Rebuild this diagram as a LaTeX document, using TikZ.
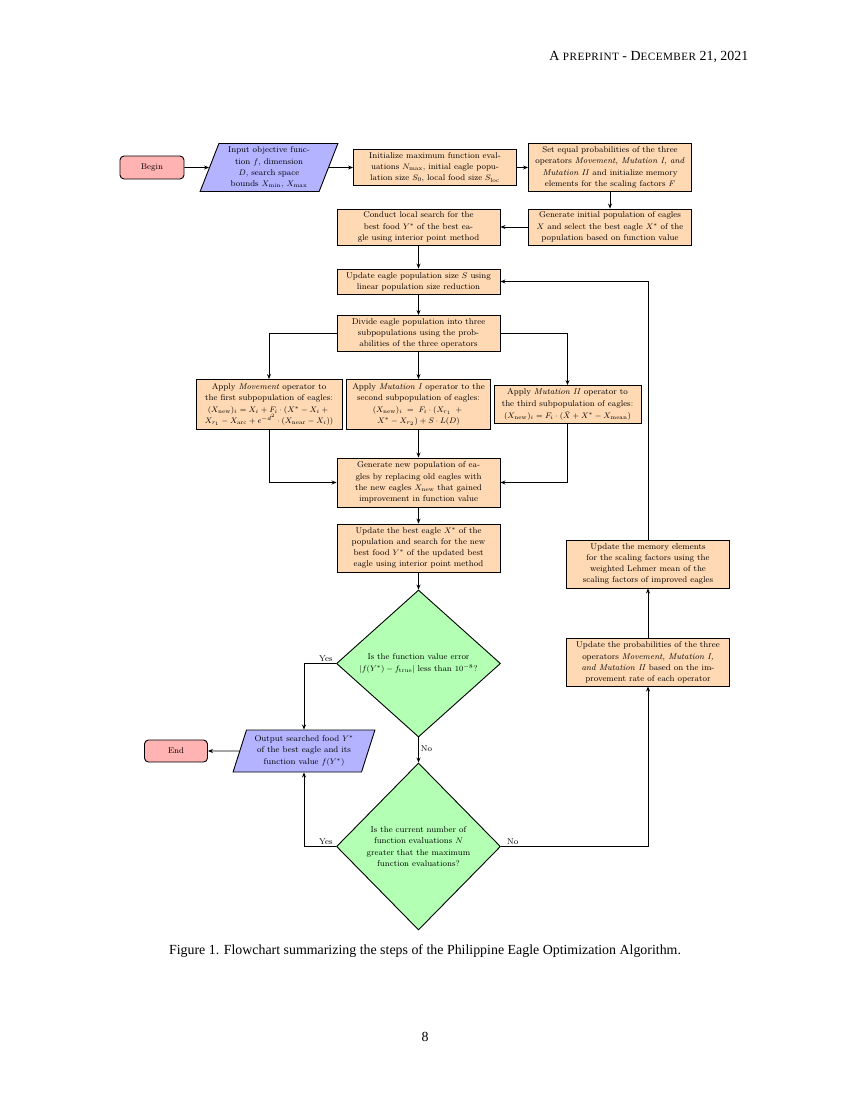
\documentclass[tikz,border=0pt]{standalone}
\usepackage{fontspec}
\usetikzlibrary{shapes.geometric,arrows.meta}
\newfontfamily\timesfont{Liberation Serif}
\newfontfamily\timesfontsp{Liberation Serif}[LetterSpace=4]
\definecolor{startc}{RGB}{255,179,179}
\definecolor{ioc}{RGB}{179,179,255}
\definecolor{procc}{RGB}{255,217,179}
\definecolor{decc}{RGB}{179,255,179}
\newcommand{\smc}[1]{{\timesfontsp\fontsize{11.2}{13}\selectfont #1}}
\tikzset{
 txt/.style={font=\fontsize{8.4}{11.2}\selectfont, align=center},
 proc/.style={txt, draw, line width=0.9pt, fill=procc, rectangle, inner xsep=2pt, inner ysep=3pt, minimum width=163pt},
 term/.style={txt, draw, line width=0.9pt, fill=startc, rectangle, rounded corners=4pt, minimum width=64pt, minimum height=23pt},
 io/.style={txt, draw, line width=0.9pt, fill=ioc, trapezium, trapezium left angle=70, trapezium right angle=110, trapezium stretches=true, inner sep=1pt},
 dec/.style={txt, draw, line width=0.9pt, fill=decc, diamond, inner sep=0pt},
 arr/.style={line width=0.8pt, -{Stealth[length=5pt,width=4pt]}},
 lab/.style={font=\fontsize{8.4}{10}\selectfont, inner sep=2pt},
 page/.style={font=\timesfont\fontsize{13.9}{16}\selectfont}
}
\begin{document}
\begin{tikzpicture}[x=1pt,y=-1pt]
\useasboundingbox (0,0) rectangle (850,1100);
% header, caption, page number
\node[page, anchor=east, inner sep=0pt] (hdr) at (748.5,57) {A \smc{PREPRINT} - D\smc{ECEMBER} 21, 2021};
\node[page] (cap) at (425,951) {Figure 1. Flowchart summarizing the steps of the Philippine Eagle Optimization Algorithm.};
\node[page] (pg) at (425,1037) {8};

% nodes
\node[term] (begin) at (152,167.5) {Begin};
\node[io, minimum width=138pt, minimum height=48pt] (in) at (269,167.5) {Input objective func-\\tion $f$, dimension\\$D$, search space\\bounds $X_{\min}$, $X_{\max}$};
\node[proc, minimum height=36pt] (init) at (435,167.5) {Initialize maximum function eval-\\uations $N_{\max}$, initial eagle popu-\\lation size $S_0$, local food size $S_{\mathrm{loc}}$};
\node[proc, minimum height=48pt] (set) at (610,167.5) {Set equal probabilities of the three\\operators \textit{Movement, Mutation I, and}\\\textit{Mutation II} and initialize memory\\elements for the scaling factors $F$};
\node[proc, minimum height=36pt] (geninit) at (610,227) {Generate initial population of eagles\\$X$ and select the best eagle $X^*$ of the\\population based on function value};
\node[proc, minimum height=36pt] (conduct) at (418.5,227) {Conduct local search for the\\best food $Y^*$ of the best ea-\\gle using interior point method};
\node[proc, minimum height=25pt] (updpop) at (418.5,281.5) {Update eagle population size $S$ using\\linear population size reduction};
\node[proc, minimum height=36pt] (divide) at (418.5,333.5) {Divide eagle population into three\\subpopulations using the prob-\\abilities of the three operators};
\node[proc, minimum width=146pt, minimum height=50pt] (mov) at (269,404.5) {Apply \textit{Movement} operator to\\the first subpopulation of eagles:\\$(X_{\mathrm{new}})_i = X_i + F_i\cdot(X^*-X_i+{}$\\$X_{r_1}-X_{\mathrm{arc}}+e^{-d^2}\cdot(X_{\mathrm{near}}-X_i))$};
\node[proc, minimum width=144pt, minimum height=50pt] (mut1) at (418.5,404.5) {Apply \textit{Mutation I} operator to the\\second subpopulation of eagles:\\$(X_{\mathrm{new}})_i \;=\; F_i\cdot(X_{r_1}\;+{}$\\$X^*-X_{r_2})+S\cdot L(D)$};
\node[proc, minimum width=147pt, minimum height=38pt] (mut2) at (567.5,404.5) {Apply \textit{Mutation II} operator to\\the third subpopulation of eagles:\\[1pt]$(X_{\mathrm{new}})_i = F_i\cdot(\bar{X}+X^*-X_{\mathrm{mean}})$};
\node[proc, minimum height=49pt] (gennew) at (418.5,482.5) {Generate new population of ea-\\gles by replacing old eagles with\\the new eagles $X_{\mathrm{new}}$ that gained\\improvement in function value};
\node[proc, minimum height=48pt] (updbest) at (418.5,548) {Update the best eagle $X^*$ of the\\population and search for the new\\best food $Y^*$ of the updated best\\eagle using interior point method};
\node[dec, minimum width=164pt, minimum height=147pt] (d1) at (418.5,663.5) {Is the function value error\\$|f(Y^*)-f_{\mathrm{true}}|$ less than $10^{-8}$?};
\node[dec, minimum width=164pt, minimum height=167pt] (d2) at (418.5,846.5) {Is the current number of\\function evaluations $N$\\greater that the maximum\\function evaluations?};
\node[io, minimum width=142pt, minimum height=42pt] (out) at (304,751) {Output searched food $Y^*$\\of the best eagle and its\\function value $f(Y^*)$};
\node[term, minimum width=63pt, minimum height=22pt] (end) at (176,751) {End};
\node[proc, minimum height=48pt] (mem) at (648,564) {Update the memory elements\\for the scaling factors using the\\weighted Lehmer mean of the\\scaling factors of improved eagles};
\node[proc, minimum height=47pt] (prob) at (648,662.5) {Update the probabilities of the three\\operators \textit{Movement, Mutation I,}\\\textit{and Mutation II} based on the im-\\provement rate of each operator};

% connectors
\draw[arr] (begin) -- (in);
\draw[arr] (in) -- (init);
\draw[arr] (init) -- (set);
\draw[arr] (set) -- (geninit);
\draw[arr] (geninit) -- (conduct);
\draw[arr] (conduct) -- (updpop);
\draw[arr] (updpop) -- (divide);
\draw[arr] (divide.west) -| (mov.north);
\draw[arr] (divide) -- (mut1);
\draw[arr] (divide.east) -| (mut2.north);
\draw[arr] (mov.south) |- (gennew.west);
\draw[arr] (mut1) -- (gennew);
\draw[arr] (mut2.south) |- (gennew.east);
\draw[arr] (gennew) -- (updbest);
\draw[arr] (updbest) -- (d1);
\draw[arr] (d1) -- node[lab, right, pos=0.45] {No} (d2);
\draw[arr] (d1.west) -| node[lab, above, pos=0.16] {Yes} (out.north);
\draw[arr] (d2.west) -| node[lab, above, pos=0.16] {Yes} (out.south);
\draw[arr] (d2.east) -| node[lab, above, pos=0.04] {No} (prob.south);
\draw[arr] (prob) -- (mem);
\draw[arr] (mem.north) |- (updpop.east);
\draw[arr] (out) -- (end);
\end{tikzpicture}
\end{document}
